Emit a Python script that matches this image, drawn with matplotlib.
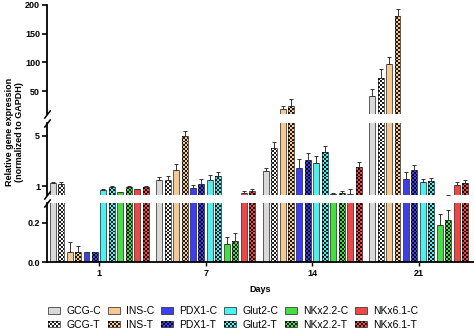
import numpy as np
import matplotlib
matplotlib.use('Agg')
import matplotlib.pyplot as plt
from matplotlib.path import Path
from matplotlib.patches import Rectangle
from matplotlib.legend_handler import HandlerPatch

plt.rcParams['font.family'] = ['Liberation Sans', 'DejaVu Sans']

days = ['1', '7', '14', '21']
labels = ['GCG-C', 'GCG-T', 'INS-C', 'INS-T', 'PDX1-C', 'PDX1-T',
          'Glut2-C', 'Glut2-T', 'NKx2.2-C', 'NKx2.2-T', 'NKx6.1-C', 'NKx6.1-T']

# mean expression per series, one value per day
gcg_c = [1.22, 1.50, 2.18, 41.0]
gcg_t = [1.19, 1.45, 4.00, 73.0]
ins_c = [0.053, 2.24, 18.6, 96.6]
ins_t = [0.050, 5.00, 24.4, 181.0]
pdx1_c = [0.050, 0.87, 2.42, 1.58]
pdx1_t = [0.050, 1.19, 3.08, 2.29]
glut2_c = [0.72, 1.45, 2.85, 1.32]
glut2_t = [0.97, 1.79, 3.68, 1.40]
nkx22_c = [0.50, 0.089, 0.40, 0.187]
nkx22_t = [0.95, 0.108, 0.45, 0.212]
nkx61_c = [0.77, 0.48, 0.40, 1.10]
nkx61_t = [0.95, 0.60, 2.50, 1.27]

# upper error (SEM)
gcg_c_err = [0.13, 0.21, 0.24, 13.0]
gcg_t_err = [0.13, 0.34, 0.47, 15.0]
ins_c_err = [0.050, 0.53, 5.8, 13.5]
ins_t_err = [0.033, 0.40, 11.0, 12.0]
pdx1_c_err = [0.003, 0.23, 0.74, 0.58]
pdx1_t_err = [0.003, 0.39, 0.52, 0.40]
glut2_c_err = [0.07, 0.45, 0.52, 0.26]
glut2_t_err = [0.05, 0.31, 0.51, 0.23]
nkx22_c_err = [0.02, 0.039, 0.08, 0.055]
nkx22_t_err = [0.03, 0.042, 0.13, 0.050]
nkx61_c_err = [0.03, 0.12, 0.40, 0.22]
nkx61_t_err = [0.04, 0.14, 0.40, 0.23]

means = [gcg_c, gcg_t, ins_c, ins_t, pdx1_c, pdx1_t,
         glut2_c, glut2_t, nkx22_c, nkx22_t, nkx61_c, nkx61_t]
errs = [gcg_c_err, gcg_t_err, ins_c_err, ins_t_err, pdx1_c_err, pdx1_t_err,
        glut2_c_err, glut2_t_err, nkx22_c_err, nkx22_t_err, nkx61_c_err, nkx61_t_err]

gene_colors = ['#d9d9d9', '#f6c994', '#3d3df2', '#4cf0f0', '#44de44', '#f04646']
t_face = ['#ffffff', '#f6c994', '#3d3df2', '#4cf0f0', '#44de44', '#f04646']

# broken y axis: (ylim, ticks, ticklabels, bottom px, top px)
segments = [
    ((10, 200), [50, 100, 150, 200], ['50', '100', '150', '200'], 114, 5),
    ((0.3, 6.0), [1, 5], ['1', '5'], 195, 123),
    ((0.0, 0.3), [0.0, 0.2], ['0.0', '0.2'], 262, 203),
]

W, H = 474, 334
fig = plt.figure(figsize=(W / 100, H / 100), dpi=100)
left = 47

step = 0.0793
width = 0.056
xg = np.arange(len(days))


def checker(ax, bars, cell=2.0):
    bb = ax.get_window_extent()
    nx, ny = int(bb.width / cell) + 1, int(bb.height / cell) + 1
    grid = (np.add.outer(np.arange(ny), np.arange(nx)) % 2).astype(float)
    rgba = np.zeros((ny, nx, 4))
    rgba[..., 3] = grid * 0.88
    paths = [b.get_path().transformed(b.get_patch_transform()) for b in bars]
    clip = Path.make_compound_path(*paths)
    im = ax.imshow(rgba, extent=(0, 1, 0, 1), transform=ax.transAxes,
                   interpolation='nearest', aspect='auto', zorder=2.5)
    im.set_clip_path(clip, ax.transData)


handles = []
axes = []
for k, (ylim, ticks, tlabels, ybot, ytop) in enumerate(segments):
    ax = fig.add_axes([left / W, 1 - ybot / H, (W - left) / W, (ybot - ytop) / H])
    axes.append(ax)
    t_bars = []
    for i in range(12):
        g = i // 2
        is_t = i % 2 == 1
        x = xg + (i - 5.5) * step
        fc = t_face[g] if is_t else gene_colors[g]
        bars = ax.bar(x, means[i], width, color=fc, edgecolor='#222222',
                      linewidth=0.5, zorder=2)
        ax.errorbar(x, means[i], yerr=[np.zeros(4), errs[i]], fmt='none',
                    ecolor='#333333', elinewidth=0.7, capsize=1.5,
                    capthick=0.7, zorder=3)
        if is_t:
            t_bars.extend(bars.patches)
        if k == 0:
            handles.append(Rectangle((0, 0), 1, 1, facecolor=fc,
                                     edgecolor='#222222', linewidth=0.5,
                                     label=labels[i]))
    fig.canvas.draw()
    checker(ax, t_bars)

    ax.set_xlim(-0.49, 3.52)
    ax.set_ylim(*ylim)
    ax.set_yticks(ticks)
    ax.set_yticklabels(tlabels)
    for s in ['top', 'right']:
        ax.spines[s].set_visible(False)
    ax.spines['left'].set_linewidth(1.3)
    ax.tick_params(axis='y', length=3.5, width=1.2, labelsize=6.5, pad=1.5)
    for lab in ax.get_yticklabels():
        lab.set_fontweight('bold')
    if k < 2:
        ax.spines['bottom'].set_visible(False)
        ax.set_xticks([])
    else:
        ax.spines['bottom'].set_linewidth(1.3)
        ax.set_xticks(xg)
        ax.set_xticklabels(days, fontweight='bold', fontsize=6.5)
        ax.tick_params(axis='x', length=3, width=1.0, pad=2)
        ax.set_xlabel('Days', fontweight='bold', fontsize=6.5, labelpad=5)
    # break marks on the left spine
    brk = dict(transform=ax.transAxes, marker=[(-1, -1.3), (1, 1.3)],
               markersize=6, linestyle='none', color='k', mec='k',
               mew=1.1, clip_on=False, zorder=5)
    if k > 0:
        ax.plot([0], [1], **brk)
    if k < 2:
        ax.plot([0], [0], **brk)


class CheckerHandler(HandlerPatch):
    def create_artists(self, legend, orig_handle, xdescent, ydescent,
                       width, height, fontsize, trans):
        base = Rectangle((-xdescent, -ydescent), width, height,
                         facecolor=orig_handle.get_facecolor(),
                         edgecolor='#222222', linewidth=0.5, transform=trans)
        out = [base]
        nx, ny = 6, 3
        cw, ch = width / nx, height / ny
        for r in range(ny):
            for c in range(nx):
                if (r + c) % 2 == 0:
                    out.append(Rectangle((-xdescent + c * cw, -ydescent + r * ch),
                                         cw, ch, facecolor='black', alpha=0.88,
                                         linewidth=0, transform=trans))
        return out


hmap = {h: CheckerHandler() for i, h in enumerate(handles) if i % 2 == 1}
fig.legend(handles=handles, loc='center', bbox_to_anchor=(0.492, 1 - 318 / H),
           ncol=6, frameon=False, fontsize=7.5, handlelength=1.15,
           handleheight=0.6, handletextpad=0.6, columnspacing=0.65,
           labelspacing=0.35, handler_map=hmap)

fig.text(0.03, 1 - 132 / H, 'Relative gene expression\n(normalized to GAPDH)',
         rotation=90, ha='center', va='center', fontsize=6.5,
         fontweight='bold', linespacing=1.15)

fig.savefig('out.png', dpi=100)
